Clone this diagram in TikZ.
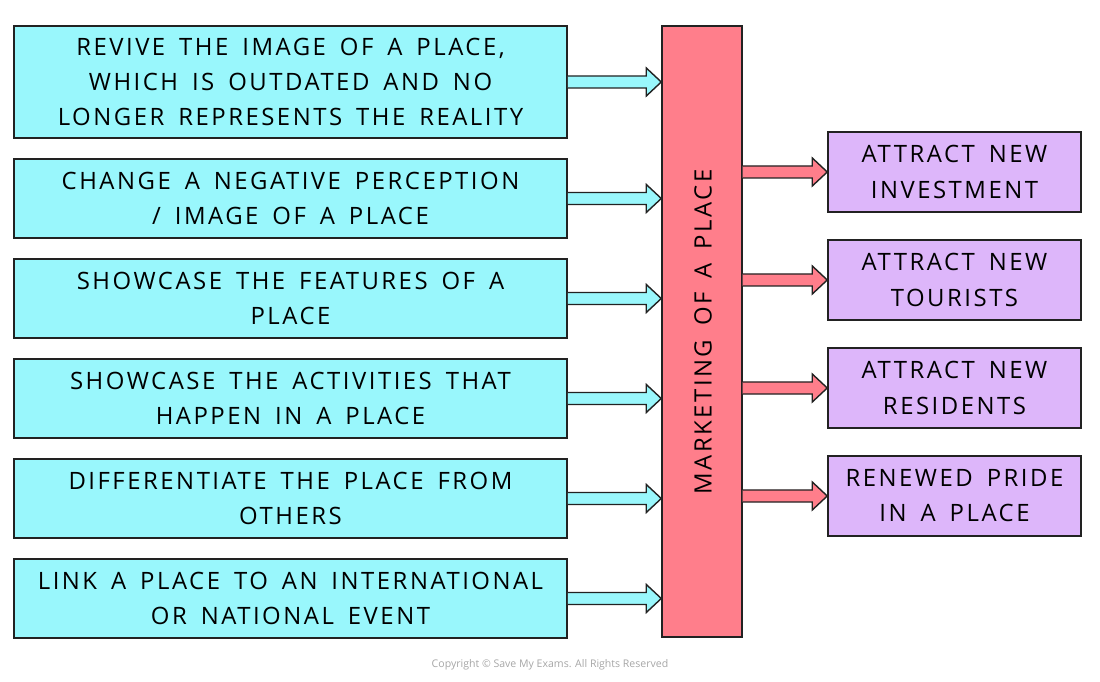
\documentclass[tikz,border=0pt]{standalone}
\usepackage{fontspec}
\setmainfont{Open Sans}
\newfontfamily\boxfont[LetterSpace=10.5, WordSpace=1.6]{Open Sans}
\usetikzlibrary{calc}
\definecolor{cyanbox}{HTML}{99F7FC}
\definecolor{pinkbox}{HTML}{FF7E8B}
\definecolor{purplebox}{HTML}{DDB6FA}
\definecolor{edge}{HTML}{222222}
\tikzset{
  boxtext/.style={font=\boxfont\fontsize{17}{25}\selectfont},
  box/.style={draw=edge, line width=1pt, rectangle, inner sep=0pt, align=center, boxtext},
  leftbox/.style={box, fill=cyanbox, minimum width=13.825cm, minimum height=1.975cm},
  rightbox/.style={box, fill=purplebox, minimum width=6.325cm, minimum height=2cm},
  midbox/.style={box, fill=pinkbox, minimum width=2cm, minimum height=15.275cm},
}
\newcommand\blockarrow[3]{%
  \draw[draw=edge, line width=1pt, fill=#3, line join=miter]
    let \p1=(#1), \p2=(#2) in
    (\x1,\y1+0.15cm) -- (\x2-0.375cm,\y1+0.15cm) -- (\x2-0.375cm,\y1+0.35cm)
    -- (\x2,\y1) -- (\x2-0.375cm,\y1-0.35cm) -- (\x2-0.375cm,\y1-0.15cm) -- (\x1,\y1-0.15cm);
}
\begin{document}
\begin{tikzpicture}[x=0.025cm, y=-0.025cm]
\useasboundingbox (0,0) rectangle (1100,682);
\node[leftbox, minimum height=2.8cm] (L1) at (290.5,82) {REVIVE THE IMAGE OF A PLACE,\\WHICH IS OUTDATED AND NO\\LONGER REPRESENTS THE REALITY};
\node[leftbox] (L2) at (290.5,198.5) {CHANGE A NEGATIVE PERCEPTION\\/ IMAGE OF A PLACE};
\node[leftbox] (L3) at (290.5,298.5) {SHOWCASE THE FEATURES OF A\\PLACE};
\node[leftbox] (L4) at (290.5,398.5) {SHOWCASE THE ACTIVITIES THAT\\HAPPEN IN A PLACE};
\node[leftbox] (L5) at (290.5,498.5) {DIFFERENTIATE THE PLACE FROM\\OTHERS};
\node[leftbox] (L6) at (290.5,598.5) {LINK A PLACE TO AN INTERNATIONAL\\OR NATIONAL EVENT};
\node[midbox] (M) at (702,331.5) {};
\node[boxtext, rotate=90] (MT) at (703,332) {MARKETING OF A PLACE};
\node[rightbox] (R1) at (954.5,172) {ATTRACT NEW\\INVESTMENT};
\node[rightbox] (R2) at (954.5,280) {ATTRACT NEW\\TOURISTS};
\node[rightbox] (R3) at (954.5,388) {ATTRACT NEW\\RESIDENTS};
\node[rightbox] (R4) at (954.5,496) {RENEWED PRIDE\\IN A PLACE};
\foreach \i in {1,...,6} {\blockarrow{L\i.east}{M.west |- L\i.east}{cyanbox}}
\foreach \i in {1,...,4} {\blockarrow{M.east |- R\i.west}{R\i.west}{pinkbox}}
\node[font=\fontsize{7.5}{9}\selectfont, text=black!35] (C) at (550,665) {Copyright © Save My Exams. All Rights Reserved};
\end{tikzpicture}
\end{document}
